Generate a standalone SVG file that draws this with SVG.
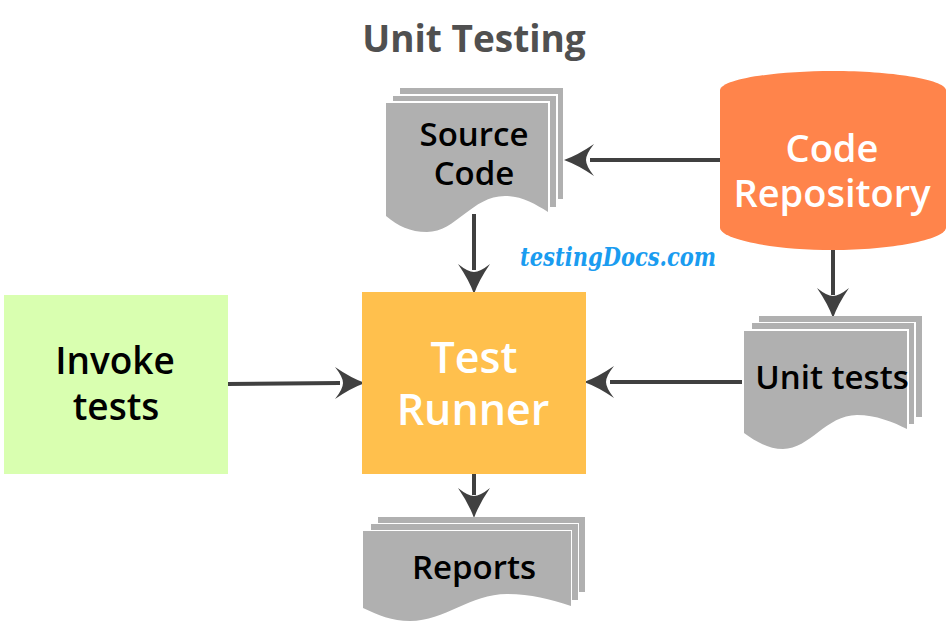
<svg xmlns="http://www.w3.org/2000/svg" width="951" height="628" viewBox="0 0 951 628">
<style>
.t{font-family:"Open Sans","Noto Sans","DejaVu Sans",sans-serif;text-anchor:middle;font-weight:600}
.k{fill:#000}.w{fill:#fff}
.sheet{fill:#b0b0b0}
.c{fill:none;stroke:#404040;stroke-width:4}
.h{fill:#404040}
</style>
<defs>
<path id="head" d="M0 0Q-14 -5 -30 -16Q-22 -6 -22 0Q-22 6 -30 16Q-14 5 0 0Z" class="h"/>
</defs>
<rect width="951" height="628" fill="#fff"/>
<text id="title" class="t" x="474" y="52" font-size="37" fill="#505050" style="font-weight:700">Unit Testing</text>
<g id="connectors">
<path class="c" d="M720 160H590"/><use href="#head" transform="translate(564 160) rotate(180)"/>
<path class="c" d="M474 214V270"/><use href="#head" transform="translate(474 294) rotate(90)"/>
<path class="c" d="M833 248V295"/><use href="#head" transform="translate(833 318) rotate(90)"/>
<path class="c" d="M742 382H610"/><use href="#head" transform="translate(584 382) rotate(180)"/>
<path class="c" d="M227 384L340 383"/><use href="#head" transform="translate(365 383)"/>
<path class="c" d="M474 473V495"/><use href="#head" transform="translate(474 518) rotate(90)"/>
</g>
<g id="source-code">
<path class="sheet" d="M400 88H563V199H558V94H400Z"/>
<path class="sheet" d="M393 96H556V207H550V101H393Z"/>
<path class="sheet" d="M386 103H548V212C535 204 522 196 505 196C472 196 456 232 427 232C410 232 398 226 386 216Z"/>
<text class="t k" font-size="33" x="474" y="146">Source</text>
<text class="t k" font-size="33" x="474" y="185">Code</text>
</g>
<g id="code-repository">
<path fill="#ff844b" d="M720 90C722 79 775 71 833 71C890 71 944 79 946 90V228C944 240 890 250 833 250C775 250 722 240 720 228Z"/>
<text class="t w" font-size="38" x="832" y="162">Code</text>
<text class="t w" font-size="38" x="832" y="207">Repository</text>
</g>
<g id="watermark">
<text x="618" y="266" text-anchor="middle" font-family="'DejaVu Serif',serif" font-style="italic" font-weight="700" font-size="26" fill="#1a9cf0" textLength="196" lengthAdjust="spacingAndGlyphs">testingDocs.com</text>
</g>
<g id="invoke-tests">
<rect x="4" y="295" width="224" height="179" fill="#d9ffb0"/>
<text class="t k" font-size="37" x="115" y="374">Invoke</text>
<text class="t k" font-size="37" x="116" y="420">tests</text>
</g>
<g id="test-runner">
<rect x="362" y="292" width="224" height="182" fill="#ffc04d"/>
<text class="t w" font-size="43" x="474" y="373">Test</text>
<text class="t w" font-size="43" x="473" y="425">Runner</text>
</g>
<g id="unit-tests">
<path class="sheet" d="M759 316H922V417H916V322H759Z"/>
<path class="sheet" d="M752 323H914V424H909V329H752Z"/>
<path class="sheet" d="M744 331H907V429C893 422 876 415 857 415C826 415 810 449 783 449C768 449 755 441 744 433Z"/>
<text class="t k" font-size="33" x="832" y="389">Unit tests</text>
</g>
<g id="reports">
<path class="sheet" d="M378 517H585V592H579V523H378Z"/>
<path class="sheet" d="M371 524H578V600H572V530H371Z"/>
<path class="sheet" d="M363 531H571V606C550 599 530 594 507 594C470 594 445 621 410 621C392 621 378 615 363 608Z"/>
<text class="t k" font-size="33" x="474" y="579">Reports</text>
</g>
</svg>
